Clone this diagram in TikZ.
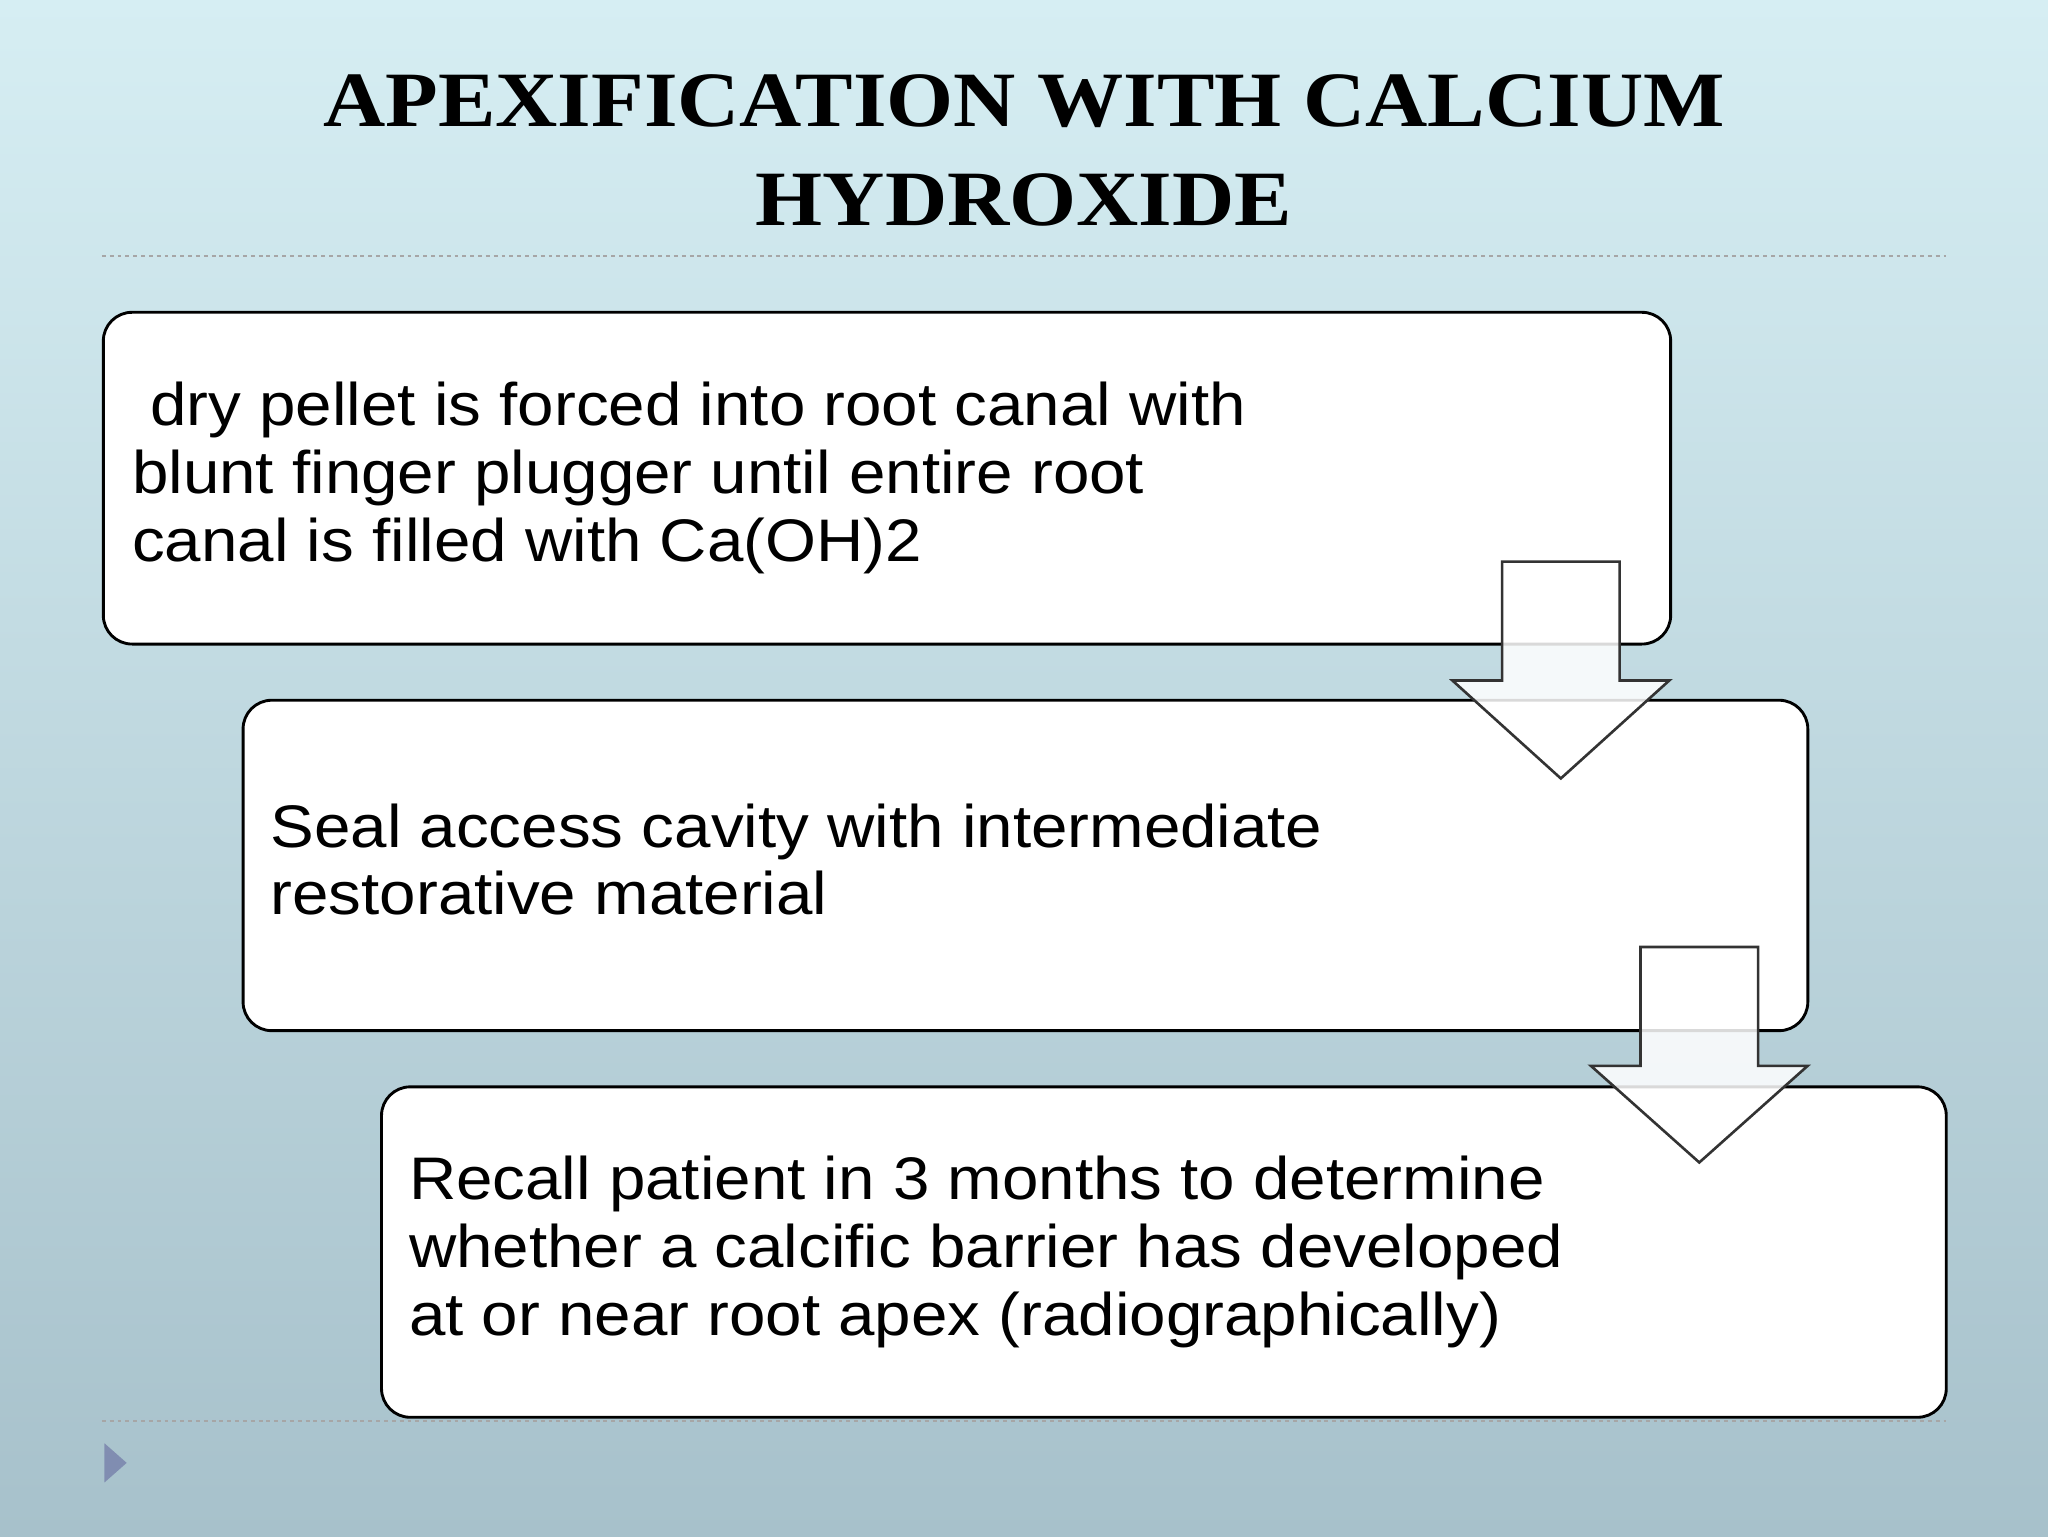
\documentclass[tikz,border=0pt]{standalone}
\usepackage{fontspec}
\setmainfont{Liberation Sans}
\newfontfamily\titlefont{Liberation Serif}
\begin{document}
\begin{tikzpicture}[x=1pt,y=-1pt,
  box/.style={draw=black,line width=2.2pt,fill=white,rounded corners=22pt},
  txt/.style={anchor=north west,align=left,inner sep=0pt,xscale=1.09,transform shape,font=\fontsize{46}{52}\selectfont},
  arr/.style={draw=black!80,line width=2pt,fill=white,fill opacity=0.85},
  sepline/.style={draw=black!35,dashed,line width=1pt}]
\useasboundingbox (0,0) rectangle (1568,1176);
\shade[top color={rgb,255:red,214;green,238;blue,243},bottom color={rgb,255:red,167;green,193;blue,203}] (0,0) rectangle (1568,1176);
\node[font=\titlefont\bfseries\fontsize{60}{76}\selectfont,align=center,xscale=1.1,transform shape] (title) at (784,115) {APEXIFICATION WITH CALCIUM\\HYDROXIDE};
\draw[sepline] (78,196) -- (1490,196);
\draw[sepline] (78,1088) -- (1490,1088);
\fill[black!20!blue!30!gray,opacity=0.5] (80,1105) -- (97,1120) -- (80,1135) -- cycle;
\node[box,minimum width=1200pt,minimum height=254pt,anchor=north west] (b1) at (78,238) {};
\node[box,minimum width=1198pt,minimum height=253pt,anchor=north west] (b2) at (185,535) {};
\node[box,minimum width=1198pt,minimum height=253pt,anchor=north west] (b3) at (291,831) {};
\node[txt] (t1) at (101,292) {\ dry pellet is forced into root canal with\\blunt finger plugger until entire root\\canal is filled with Ca(OH)2};
\node[txt] (t2) at (207,615) {Seal access cavity with intermediate\\restorative material};
\node[txt] (t3) at (313,885) {Recall patient in 3 months to determine\\whether a calcific barrier has developed\\at or near root apex (radiographically)};
\draw[arr] (1150,430) -- (1240,430) -- (1240,521) -- (1278,521) -- (1195,596) -- (1112,521) -- (1150,521) -- cycle;
\draw[arr] (1256,725) -- (1346,725) -- (1346,816) -- (1384,816) -- (1301,890) -- (1218,816) -- (1256,816) -- cycle;
\end{tikzpicture}
\end{document}
